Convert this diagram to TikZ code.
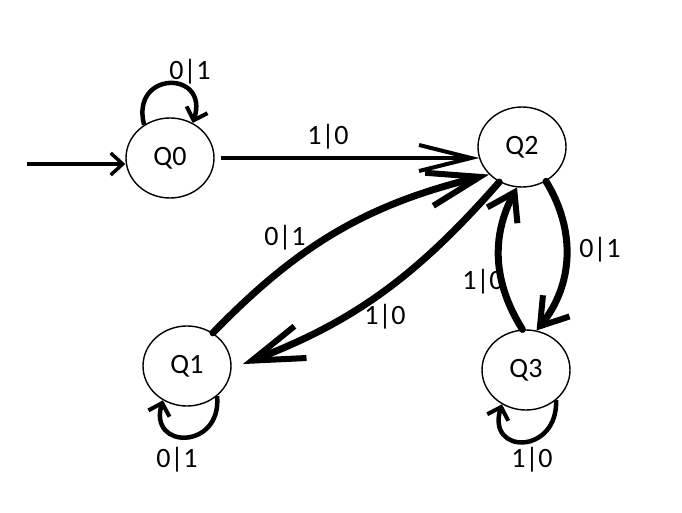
\documentclass[tikz,border=0pt]{standalone}
\usepackage{fontspec}
\setmainfont{Carlito}
\usetikzlibrary{shapes.geometric,arrows.meta}
\begin{document}
\begin{tikzpicture}[x=1pt,y=-1pt,
  state/.style={draw,ellipse,line width=1.4pt,minimum width=88pt,minimum height=80pt,inner sep=0pt,font=\fontsize{28}{28}\selectfont},
  lbl/.style={font=\fontsize{28}{28}\selectfont,inner sep=0pt},
  bigtip/.style={-{Straight Barb[length=52pt,width=34pt,line width=6pt]}},
  midtip/.style={-{Straight Barb[length=26pt,width=34pt,line width=6pt]}},
  thintip/.style={-{Straight Barb[length=52pt,width=26pt,line width=4pt]}},
  smalltip/.style={-{Straight Barb[length=11pt,width=22pt,line width=4pt]}},
  thick edge/.style={line width=7pt,line cap=round},
  loopedge/.style={line width=4.5pt}
]
\useasboundingbox (0,0) rectangle (682,513);
\node[state] (q0) at (170,158) {Q0};
\node[state] (q2) at (522,147) {Q2};
\node[state] (q1) at (187,366) {Q1};
\node[state] (q3) at (526,370) {Q3};
\coordinate (start) at (27,164);
% start arrow
\draw[line width=3.5pt,-{Straight Barb[length=12pt,width=22pt,line width=3.5pt]}] (start) -- (start -| q0.west);
% Q0 -> Q2
\draw[line width=3.5pt,thintip] ([xshift=6pt]q0.east) -- ([xshift=2pt]q0.east -| q2.west);
% Q0 loop
\draw[loopedge,smalltip] (q0.128) .. controls (130,70) and (210,70) .. (q0.57);
% Q1 <-> Q2
\draw[thick edge,bigtip] (q1.52) to[bend left=16] (q2.220);
\draw[thick edge,bigtip,shorten >=12pt] (q2.237) to[bend left=14] (q1.357);
% Q2 <-> Q3
\draw[thick edge,midtip] (q2.305) to[bend left=35] (q3.75);
\draw[thick edge,midtip] (q3.95) to[bend left=30] (q2.263);
% Q1 loop
\draw[loopedge,smalltip] (q1.-45) .. controls (222,450) and (148,450) .. (q1.-125);
% Q3 loop
\draw[loopedge,smalltip] (q3.-45) .. controls (558,455) and (486,455) .. (q3.-125);
% labels
\node[lbl] (l00) at (190,72) {0|1};
\node[lbl] (l02) at (328,137) {1|0};
\node[lbl] (l12) at (285,238) {0|1};
\node[lbl] (l21) at (385,317) {1|0};
\node[lbl] (l23) at (600,250) {0|1};
\node[lbl] (l32) at (483,282) {1|0};
\node[lbl] (l11) at (177,460) {0|1};
\node[lbl] (l33) at (532,460) {1|0};
\end{tikzpicture}
\end{document}
